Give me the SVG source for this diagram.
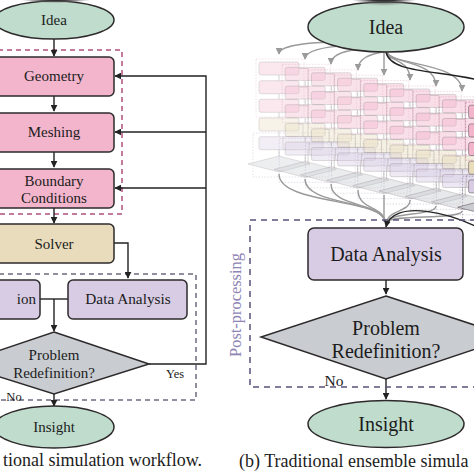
<svg xmlns="http://www.w3.org/2000/svg" xmlns:xlink="http://www.w3.org/1999/xlink" width="474" height="474" viewBox="0 0 474 474" font-family="'Liberation Serif', 'DejaVu Serif', serif">
<style>
text{font-family:'Liberation Serif','DejaVu Serif',serif}
.t{fill:#1c1c1c;text-anchor:middle}
.b{stroke:#2e2a2c;stroke-width:1.5}
.pink{fill:#f3b5cc}.beige{fill:#e8dcbc}.lav{fill:#d7cce4}.gray{fill:#c9cdd1}.green{fill:#bfdccd}
.ln{fill:none;stroke:#222;stroke-width:1.4}
.gl{fill:none;stroke:#9a9a9a;stroke-width:1.4}
.cb{stroke:#6a5a62;stroke-width:0.6}
</style>
<defs>
<marker id="ah" viewBox="0 0 10 10" refX="9" refY="5" markerWidth="5" markerHeight="5" orient="auto"><path d="M0,0 L10,5 L0,10 z" fill="#222"/></marker>
<marker id="gh" viewBox="0 0 10 10" refX="9" refY="5" markerWidth="5" markerHeight="5" orient="auto"><path d="M0,0 L10,5 L0,10 z" fill="#9a9a9a"/></marker>
<radialGradient id="dk" cx="0.5" cy="0.3" r="0.6"><stop offset="0" stop-color="#111"/><stop offset="0.7" stop-color="#333"/><stop offset="1" stop-color="#999" stop-opacity="0"/></radialGradient>
<g id="cp">
<rect x="-23" y="-3" width="48" height="58" fill="none" stroke="#c46a90" stroke-width="0.6" stroke-dasharray="1.5 1.5"/>
<rect x="-26" y="71" width="76" height="44" fill="none" stroke="#7a6f9a" stroke-width="0.6" stroke-dasharray="1.5 1.5"/>
<path d="M0,13 V18.7 M0,31.7 V37.3 M0,50.3 V56 M0,69 V74.7 M0,87.7 V94 M20,6.5 H29 V102 H31 M20,25 H29 M20,43.8 H29 M20,62 H24 V74.7" fill="none" stroke="#444" stroke-width="0.7"/>
<rect x="-20" y="0" width="40" height="13" rx="2" class="pink cb"/>
<rect x="-20" y="18.7" width="40" height="13" rx="2" class="pink cb"/>
<rect x="-20" y="37.3" width="40" height="13" rx="2" class="pink cb"/>
<rect x="-20" y="56" width="40" height="13" rx="2" class="beige cb"/>
<rect x="-20" y="74.7" width="40" height="13" rx="2" class="lav cb"/>
<rect x="4" y="74.7" width="40" height="13" rx="2" class="lav cb"/>
<polygon points="0,94 31,102 0,110 -31,102" class="gray cb"/>
</g>
</defs>
<rect width="474" height="474" fill="#fff"/>

<!-- ===== Panel (a) ===== -->
<g id="a-frames">
<rect x="-20" y="50" width="142" height="164" fill="none" stroke="#b0507c" stroke-width="1.5" stroke-dasharray="5 4"/>
<rect x="-100" y="274" width="296" height="126" fill="none" stroke="#6e6a80" stroke-width="1.5" stroke-dasharray="5 4"/>
</g>
<g id="a-connectors">
<path class="ln" d="M54,39 V56" marker-end="url(#ah)"/>
<path class="ln" d="M54,96 V111" marker-end="url(#ah)"/>
<path class="ln" d="M54,152 V167" marker-end="url(#ah)"/>
<path class="ln" d="M54,208 V223" marker-end="url(#ah)"/>
<path class="ln" d="M114,243 H128 V278" marker-end="url(#ah)"/>
<path class="ln" d="M40,299 H68"/>
<path class="ln" d="M54,299 V331" marker-end="url(#ah)"/>
<path class="ln" d="M54,394 V406" marker-end="url(#ah)"/>
<path class="ln" d="M149,364 H206 V76 H115" marker-end="url(#ah)"/>
<path class="ln" d="M206,132 H115" marker-end="url(#ah)"/>
<path class="ln" d="M206,188 H115" marker-end="url(#ah)"/>
</g>
<g id="a-idea">
<ellipse cx="54" cy="20" rx="60" ry="19" class="green b"/>
<ellipse cx="56" cy="-3" rx="40" ry="8" fill="url(#dk)"/>
<text class="t" x="54" y="25" font-size="15">Idea</text>
</g>
<g id="a-geometry"><rect x="-6" y="57" width="120" height="39" rx="5" class="pink b"/><text class="t" x="54" y="81" font-size="15">Geometry</text></g>
<g id="a-meshing"><rect x="-6" y="113" width="120" height="39" rx="5" class="pink b"/><text class="t" x="54" y="137" font-size="15">Meshing</text></g>
<g id="a-boundary"><rect x="-6" y="169" width="120" height="39" rx="5" class="pink b"/><text class="t" x="54" y="186" font-size="15">Boundary</text><text class="t" x="54" y="203" font-size="15">Conditions</text></g>
<g id="a-solver"><rect x="-6" y="224" width="120" height="39" rx="5" class="beige b"/><text class="t" x="54" y="249" font-size="15">Solver</text></g>
<g id="a-vis"><rect x="-80" y="280" width="120" height="39" rx="5" class="lav b"/><text class="t" x="36" y="304" font-size="15" style="text-anchor:end">ion</text></g>
<g id="a-data"><rect x="68" y="280" width="119" height="39" rx="5" class="lav b"/><text class="t" x="128" y="304" font-size="15.3">Data Analysis</text></g>
<g id="a-problem"><polygon points="54,332 149,364 54,394 -41,364" class="gray b"/><text class="t" x="54" y="360" font-size="15">Problem</text><text class="t" x="54" y="378" font-size="15">Redefinition?</text></g>
<g id="a-insight"><ellipse cx="54" cy="427" rx="60" ry="21" class="green b"/><text class="t" x="54" y="432" font-size="15">Insight</text></g>
<text class="t" x="175" y="378" font-size="12.5">Yes</text>
<text class="t" x="14" y="401" font-size="12.5">No</text>
<text class="t" x="3" y="466" font-size="18" style="text-anchor:start" textLength="199">tional simulation workflow.</text>

<!-- ===== Panel (b) ===== -->
<g id="b-ensemble">
<use xlink:href="#cp" transform="translate(279,62)" opacity="0.32"/>
<use xlink:href="#cp" transform="translate(305.2,67.4)" opacity="0.34"/>
<use xlink:href="#cp" transform="translate(331.4,72.8)" opacity="0.36"/>
<use xlink:href="#cp" transform="translate(357.6,78.2)" opacity="0.38"/>
<use xlink:href="#cp" transform="translate(383.8,83.6)" opacity="0.4"/>
<use xlink:href="#cp" transform="translate(410,89)" opacity="0.42"/>
<use xlink:href="#cp" transform="translate(436.2,94.4)" opacity="0.44"/>
<use xlink:href="#cp" transform="translate(462.4,99.8)" opacity="0.46"/>
<use xlink:href="#cp" transform="translate(488.6,105.2)"/>
</g>
<g id="b-connectors">
<path class="gl" d="M386,50 C384,40 279,38 279,54" marker-end="url(#gh)"/>
<path class="gl" d="M386,50 C384,44 305,42 305,59" marker-end="url(#gh)"/>
<path class="gl" d="M386,50 C384,48 331,46 331,64" marker-end="url(#gh)"/>
<path class="gl" d="M386,50 C385,54 358,52 358,70" marker-end="url(#gh)"/>
<path class="gl" d="M384,52 V75" marker-end="url(#gh)"/>
<path class="gl" d="M387,52 C388,62 410,58 410,80" marker-end="url(#gh)"/>
<path class="gl" d="M387,52 C390,64 436,60 436,86" marker-end="url(#gh)"/>
<path class="gl" d="M387,52 C392,66 462,62 462,91" marker-end="url(#gh)"/>
<path class="ln" d="M386,52 C390,72 430,70 474,79 C486,82 490,88 490,97" marker-end="url(#ah)"/>
<path class="gl" d="M279,174 C279,205 384,198 385,222"/>
<path class="gl" d="M305,179 C305,206 384,200 385,222"/>
<path class="gl" d="M331,184 C331,208 384,202 385,222"/>
<path class="gl" d="M358,190 C358,210 384,206 385,222"/>
<path class="gl" d="M384,195 V222"/>
<path class="gl" d="M410,200 C410,212 388,210 387,222"/>
<path class="gl" d="M436,206 C436,216 389,212 387,222"/>
<path class="gl" d="M462,211 C462,220 390,214 387,222"/>
<path class="ln" d="M500,240 C450,208 392,200 386,227" marker-end="url(#ah)"/>
<path class="ln" d="M386,280 V294" marker-end="url(#ah)"/>
<path class="ln" d="M386,379 V399" marker-end="url(#ah)"/>
</g>
<g id="b-post">
<rect x="250" y="220" width="240" height="167" fill="none" stroke="#5a527a" stroke-width="1.5" stroke-dasharray="6 5"/>
<text class="t" x="0" y="0" font-size="16.4" transform="translate(241,305) rotate(-90)" style="fill:#8e84b5">Post-processing</text>
</g>
<g id="b-idea">
<ellipse cx="386" cy="27" rx="78" ry="25" class="green b"/>
<ellipse cx="384" cy="-5" rx="36" ry="14" fill="url(#dk)"/>
<text class="t" x="386" y="34" font-size="20">Idea</text>
</g>
<g id="b-data"><rect x="308" y="228" width="155" height="52" rx="6" class="lav b"/><text class="t" x="386" y="261" font-size="20">Data Analysis</text></g>
<g id="b-problem"><polygon points="386,296 511,337 386,379 261,337" class="gray b"/><text class="t" x="386" y="335" font-size="20">Problem</text><text class="t" x="386" y="358" font-size="20">Redefinition?</text></g>
<g id="b-insight"><ellipse cx="386" cy="424" rx="78" ry="23.5" class="green b"/><text class="t" x="386" y="431" font-size="20">Insight</text></g>
<text class="t" x="334" y="386" font-size="15.5">No</text>
<text class="t" x="239" y="467" font-size="18" style="text-anchor:start">(b) Traditional ensemble simula</text>
</svg>
